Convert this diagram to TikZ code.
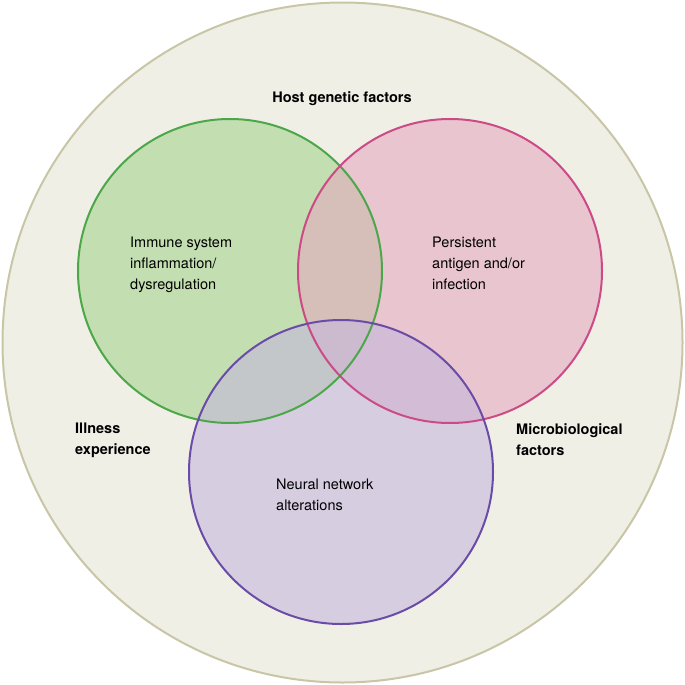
\documentclass[tikz,border=0pt]{standalone}
\usepackage{fontspec}
\setmainfont{TeX Gyre Heros}
\begin{document}
\begin{tikzpicture}[x=1pt,y=-1pt,
  venn/.style={line width=2pt},
  lbl/.style={align=left,anchor=north west,font=\fontsize{14.5}{21}\selectfont,inner sep=0pt},
  blbl/.style={lbl,font=\fontsize{14.5}{21}\selectfont\bfseries}]
\definecolor{bgc}{HTML}{F0EFE6}\definecolor{bgl}{HTML}{C8C6A6}
\definecolor{gf}{HTML}{B0D89A}\definecolor{gl}{HTML}{4CA64A}
\definecolor{pf}{HTML}{E3A9C0}\definecolor{pl}{HTML}{CC4A85}
\definecolor{vf}{HTML}{C6B8DC}\definecolor{vl}{HTML}{6A4CA8}
\useasboundingbox (0,0) rectangle (685,685);
\draw[fill=bgc,draw=bgl,line width=2pt] (342.5,342.5) circle (340);
\fill[gf,fill opacity=0.7] (230,271) circle (152);
\fill[pf,fill opacity=0.6] (450,271) circle (152);
\fill[vf,fill opacity=0.6] (341,472) circle (152);
\draw[venn,gl] (230,271) circle (152);
\draw[venn,pl] (450,271) circle (152);
\draw[venn,vl] (341,472) circle (152);
\node[lbl] (a) at (130,237) {Immune system\\inflammation/\\dysregulation};
\node[lbl] (b) at (432,237) {Persistent\\antigen and/or\\infection};
\node[lbl] (c) at (276,479) {Neural network\\alterations};
\node[blbl,anchor=center] (d) at (342,99) {Host genetic factors};
\node[blbl] (e) at (75,423) {Illness\\experience};
\node[blbl] (f) at (516,423) {Microbiological\\factors};
\end{tikzpicture}
\end{document}
